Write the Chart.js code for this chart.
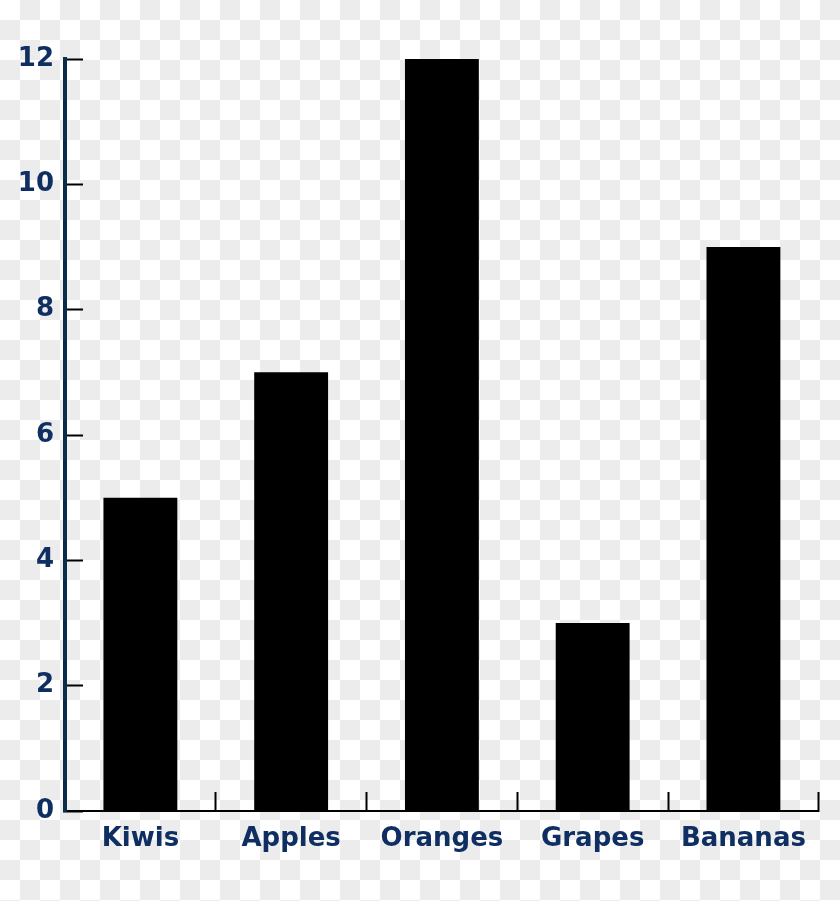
<!DOCTYPE html>
<html>
<head>
<meta charset="utf-8">
<script src="https://cdn.jsdelivr.net/npm/chart.js@4/dist/chart.umd.min.js"></script>
<style>
  html, body {
    margin: 0;
    padding: 0;
  }
  body {
    width: 840px;
    height: 901px;
    background: repeating-conic-gradient(#ececec 0 25%, #ffffff 0 50%) 0 0 / 40px 40px;
  }
  #wrap {
    position: relative;
    width: 840px;
    height: 901px;
  }
</style>
</head>
<body>
<div id="wrap"><canvas id="bar-chart"></canvas></div>
<script>
const fruits = ['Kiwis', 'Apples', 'Oranges', 'Grapes', 'Bananas']
const counts = [5, 7, 12, 3, 9]
const yTicks = [0, 2, 4, 6, 8, 10, 12]

const navy = '#0f2f62'
const labelFont = {
  family: "'Comic Sans MS', 'DejaVu Sans', sans-serif",
  size: 26,
  weight: 'bold',
}

new Chart(document.getElementById('bar-chart'), {
  type: 'bar',
  data: {
    labels: fruits,
    datasets: [
      {
        data: counts,
        backgroundColor: '#000000',
        borderWidth: 0,
        categoryPercentage: 1,
        barPercentage: 0.49,
      },
    ],
  },
  options: {
    responsive: true,
    maintainAspectRatio: false,
    animation: false,
    layout: {
      padding: { top: 59, right: 21, left: 0, bottom: 0 },
    },
    scales: {
      x: {
        offset: true,
        grid: {
          offset: true,
          drawOnChartArea: false,
          drawTicks: true,
          tickLength: -19,
          tickWidth: 2,
          tickColor: '#000000',
        },
        border: { display: true, color: '#000000', width: 2 },
        ticks: {
          padding: 32,
          color: navy,
          font: labelFont,
        },
        afterFit: (scale) => {
          scale.height = 90
        },
      },
      y: {
        min: 0,
        max: 12,
        afterBuildTicks: (scale) => {
          scale.ticks = yTicks.map((v) => ({ value: v }))
        },
        grid: {
          drawOnChartArea: false,
          drawTicks: true,
          tickLength: -18,
          tickWidth: 2,
          tickColor: '#000000',
        },
        border: { display: true, color: '#0c2c4c', width: 4 },
        ticks: {
          padding: 29,
          color: navy,
          font: labelFont,
        },
        afterFit: (scale) => {
          scale.width = 65
        },
      },
    },
    plugins: {
      legend: { display: false },
      tooltip: { enabled: false },
    },
  },
})
</script>
</body>
</html>
